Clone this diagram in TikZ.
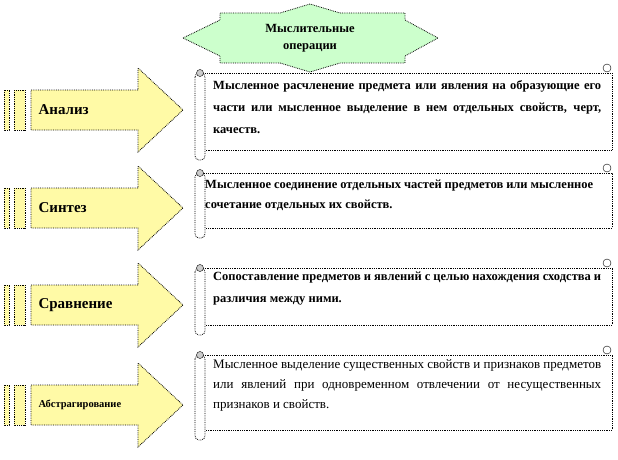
\documentclass[tikz,border=0pt]{standalone}
\usepackage{fontspec}
\setmainfont{Liberation Serif}
\begin{document}
\begin{tikzpicture}[x=1pt,y=-1pt]
  \tikzset{arrowshape/.style = {draw,densely dotted,thick,fill=yellow!35}}
  \tikzset{scrollbox/.style = {draw,densely dotted,thick,fill=white}}
  \tikzset{scrolltext/.style = {anchor=north west,text width=388pt,align=justify,inner sep=0pt}}
  \tikzset{arrowtext/.style = {anchor=west}}
  \useasboundingbox (0,0) rectangle (618,460);
  % star
  \draw[densely dotted,thick,fill=green!20] (183,38) -- (220,20) -- (220,13) -- (280,13) -- (310,4) -- (340,13)
    -- (405,13) -- (405,20) -- (438,38) -- (405,56) -- (405,63) -- (340,63) -- (310,72) -- (280,63)
    -- (220,63) -- (220,56) -- cycle;
  \node[font=\bfseries\fontsize{12.5}{17}\selectfont,align=center] (title) at (310,38) {Мыслительные\\операции};
  % arrows
  \foreach \y/\name/\txt/\fs in {110/an/Анализ/15, 208/sy/Синтез/15, 305/sr/Сравнение/15, 405/ab/Абстрагирование/10.5}{
    \draw[arrowshape] (4,\y-20) rectangle (9,\y+20);
    \draw[arrowshape] (14,\y-20) rectangle (25,\y+20);
    \draw[arrowshape] (31,\y-20) -- (138,\y-20) -- (138,\y-42) -- (183,\y) -- (138,\y+42) -- (138,\y+20)
      -- (31,\y+20) -- cycle;
    \node[arrowtext,font=\bfseries\fontsize{\fs}{14}\selectfont] (\name) at (35,\y) {\txt};
  }
  % scrolls
  \foreach \t/\b/\name in {68/160/s1, 168/238/s2, 263/335/s3, 350/440/s4}{
    \draw[scrollbox] (200,\t+5) rectangle (612,\b-10);
    \draw[scrollbox,rounded corners=4pt] (195,\t+5) rectangle (205,\b);
    \draw[fill=gray!40] (200,\t+5) circle (3.5);
    \draw[fill=white] (607,\t) circle (4);
    \coordinate (\name) at (213,\t+12);
  }
  \node[scrolltext,font=\bfseries\fontsize{12.5}{22}\selectfont] (t1) at (s1) {Мысленное расчленение предмета или явления на образующие его части или мысленное выделение в нем отдельных свойств, черт, качеств.};
  \node[scrolltext,font=\bfseries\fontsize{12.5}{20}\selectfont] (t2) at ([xshift=-8]s2) {Мысленное соединение отдельных частей предметов или мысленное сочетание отдельных их свойств.};
  \node[scrolltext,font=\bfseries\fontsize{12.5}{22}\selectfont] (t3) at ([yshift=3]s3) {Сопоставление предметов и явлений с целью нахождения сходства и различия между ними.};
  \node[scrolltext,font=\fontsize{13}{20}\selectfont] (t4) at ([yshift=3]s4) {Мысленное выделение существенных свойств и признаков предметов или явлений при одновременном отвлечении от несущественных признаков и свойств.};
\end{tikzpicture}
\end{document}
